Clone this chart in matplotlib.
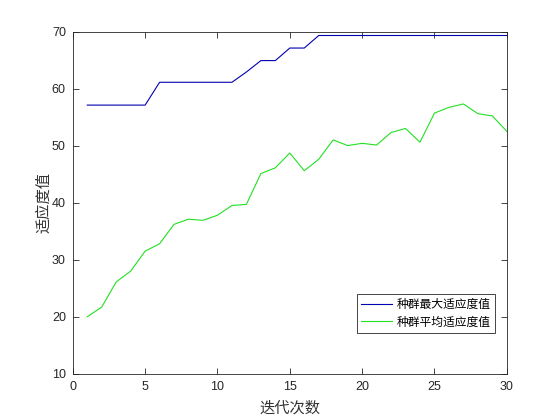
import matplotlib
matplotlib.use("Agg")
import matplotlib.pyplot as plt

plt.rcParams['font.family'] = ['Liberation Sans', 'Noto Sans CJK SC', 'DejaVu Sans']

generations = list(range(1, 31))
max_fitness = [57.1, 57.1, 57.1, 57.1, 57.1, 61.1, 61.1, 61.1, 61.1, 61.1,
               61.1, 62.9, 64.9, 64.9, 67.1, 67.1, 69.3, 69.3, 69.3, 69.3,
               69.3, 69.3, 69.3, 69.3, 69.3, 69.3, 69.3, 69.3, 69.3, 69.3]
avg_fitness = [20.0, 21.7, 26.1, 28.0, 31.5, 32.8, 36.2, 37.1, 36.9, 37.8,
               39.5, 39.7, 45.1, 46.1, 48.7, 45.6, 47.6, 51.0, 50.0, 50.4,
               50.1, 52.3, 53.0, 50.6, 55.7, 56.7, 57.3, 55.6, 55.2, 52.5]
series_labels = ['种群最大适应度值', '种群平均适应度值']
x_label = '迭代次数'
y_label = '适应度值'

fig = plt.figure(figsize=(5.6, 4.2), dpi=100)
ax = fig.add_axes([0.13, 0.11, 0.775, 0.815])
ax.plot(generations, max_fitness, color='#0000b0', linewidth=0.8, label=series_labels[0])
ax.plot(generations, avg_fitness, color='#22e022', linewidth=0.8, label=series_labels[1])

ax.set_xlim(0, 30)
ax.set_ylim(10, 70)
ax.set_xticks(range(0, 31, 5))
ax.set_yticks(range(10, 71, 10))
ax.tick_params(direction='in', top=True, right=True, length=4, width=0.6,
               labelsize=9, colors='#262626', pad=5)
for s in ax.spines.values():
    s.set_linewidth(0.6)
    s.set_color('#262626')

cjk = ['Noto Sans CJK SC', 'DejaVu Sans']
ax.set_xlabel(x_label, family=cjk, fontsize=11, fontweight='light', color='#333333', labelpad=5)
ax.set_ylabel(y_label, family=cjk, fontsize=11, fontweight='light', color='#333333', labelpad=0)

leg = ax.legend(loc='lower right', bbox_to_anchor=(0.972, 0.12), borderaxespad=0,
                prop={'family': cjk, 'size': 8.5, 'weight': 'light'}, fancybox=False, framealpha=1,
                edgecolor='#262626', handlelength=2.6, handletextpad=0.4,
                borderpad=0.35, labelspacing=0.4)
leg.get_frame().set_linewidth(0.6)

fig.savefig('out.png', dpi=100)
